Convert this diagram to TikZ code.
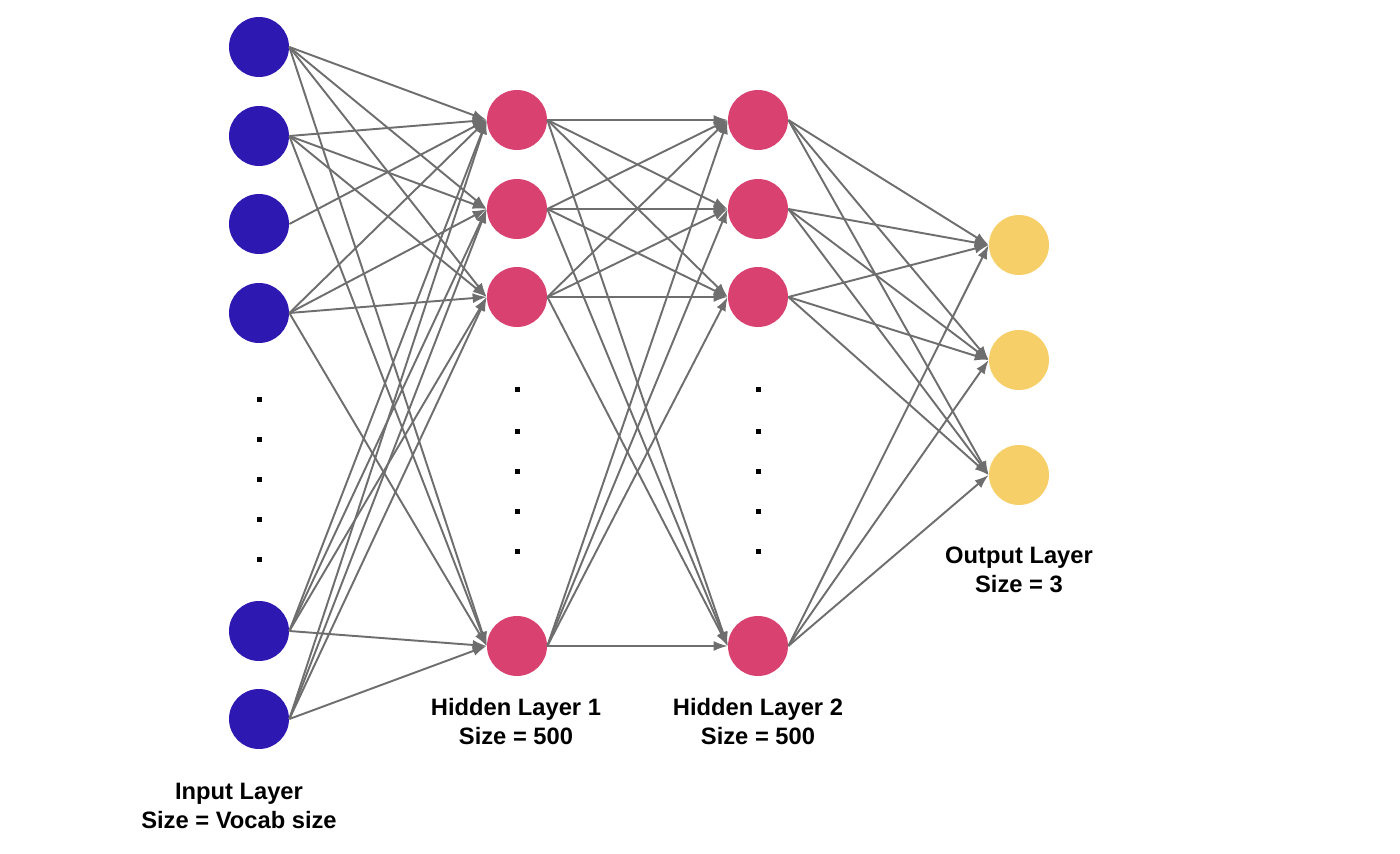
\documentclass[tikz,border=0pt]{standalone}
\usepackage{fontspec}
\setmainfont{Liberation Sans}
\usetikzlibrary{arrows.meta}
\definecolor{inblue}{RGB}{46,24,178}
\definecolor{hidpink}{RGB}{217,66,112}
\definecolor{outyel}{RGB}{247,207,104}
\definecolor{edgegray}{RGB}{110,110,110}
\begin{document}
\begin{tikzpicture}[x=0.02cm,y=-0.02cm,
  neuron/.style={circle,minimum size=1.2cm,inner sep=0pt,draw=none},
  edge/.style={draw=edgegray,line width=1.1pt,-{Latex[length=0.28cm,width=0.2cm]}},
  lbl/.style={font=\fontsize{13.5}{16.5}\selectfont\bfseries,align=center}]
\useasboundingbox (0,0) rectangle (1400,854);

% input layer
\foreach \i/\y in {1/47,2/136,3/224,4/313,5/631,6/719}
  \node[neuron,fill=inblue] (in-\i) at (259,\y) {};
% hidden layers
\foreach \i/\y in {1/120,2/209,3/297,4/646}{
  \node[neuron,fill=hidpink] (ha-\i) at (517,\y) {};
  \node[neuron,fill=hidpink] (hb-\i) at (758,\y) {};
}
% output layer
\foreach \i/\y in {1/245,2/360,3/475}
  \node[neuron,fill=outyel] (out-\i) at (1019,\y) {};

% dots
\foreach \y in {400,440,480,520,560}
  \fill (256.5,\y-2.5) rectangle ++(5,5);
\foreach \y in {390,432,472,512,552}{
  \fill (514.5,\y-2.5) rectangle ++(5,5);
  \fill (755.5,\y-2.5) rectangle ++(5,5);
}

% connections
\foreach \i in {1,2,4,5,6}
  \foreach \j in {1,2,3,4}
    \draw[edge] (in-\i.east) -- (ha-\j.west);
\draw[edge] (in-3.east) -- (ha-1.west);
\foreach \i in {1,2,3,4}
  \foreach \j in {1,2,3,4}
    \draw[edge] (ha-\i.east) -- (hb-\j.west);
\foreach \i in {1,2,3,4}
  \foreach \j in {1,2,3}
    \draw[edge] (hb-\i.east) -- (out-\j.west);

% labels
\node[lbl] (lbl-in) at (239,806) {Input Layer\\Size = Vocab size};
\node[lbl] (lbl-ha) at (516,722) {Hidden Layer 1\\Size = 500};
\node[lbl] (lbl-hb) at (758,722) {Hidden Layer 2\\Size = 500};
\node[lbl] (lbl-out) at (1019,570) {Output Layer\\Size = 3};
\end{tikzpicture}
\end{document}
